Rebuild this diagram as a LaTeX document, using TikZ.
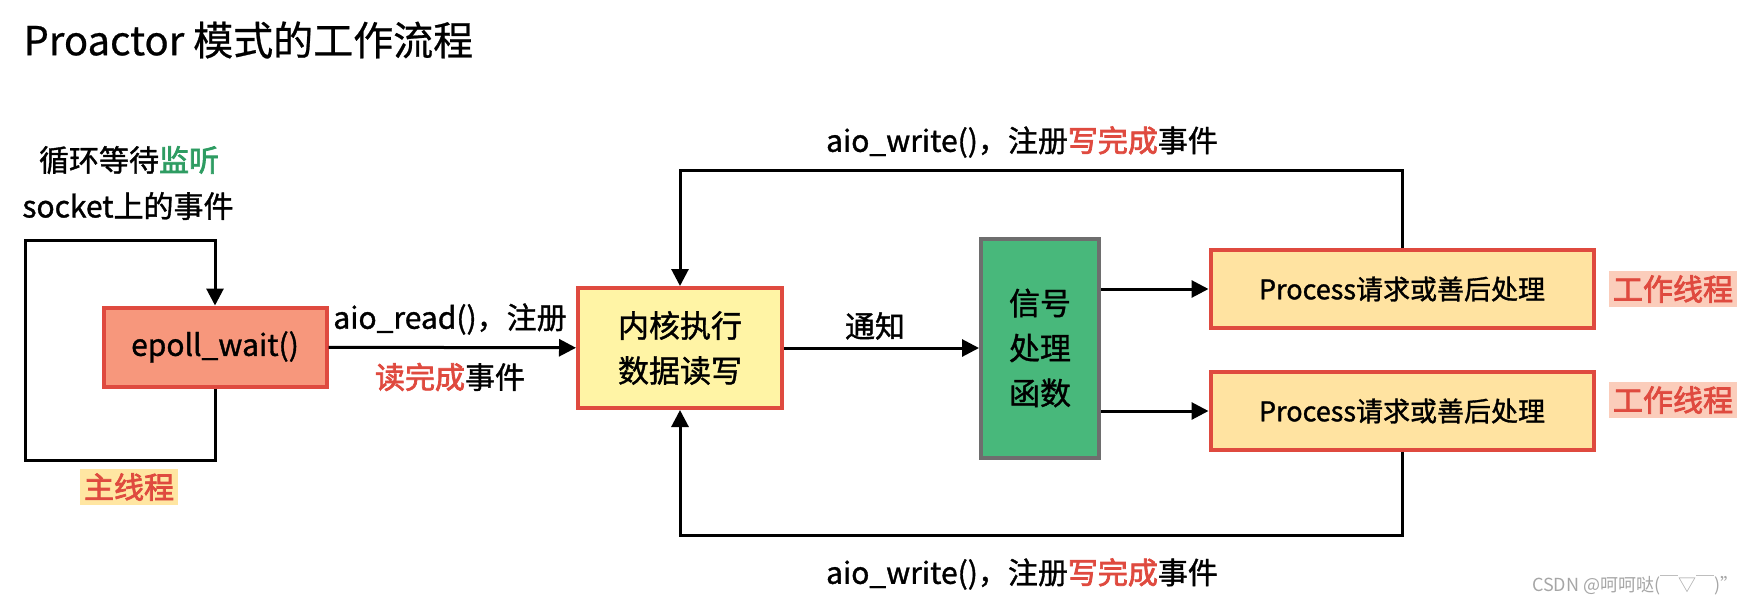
\documentclass[tikz,border=0pt]{standalone}
\usepackage{fontspec}
\setmainfont{Noto Sans CJK SC}
\newfontfamily\medfont{Noto Sans CJK SC}[RawFeature={embolden=1.2}]
\newfontfamily\boldish{Noto Sans CJK SC}[RawFeature={embolden=2.4}]
\newfontfamily\titlefont{Noto Sans CJK SC}[RawFeature={embolden=0.6}]
\usetikzlibrary{arrows.meta}

\definecolor{hired}{HTML}{DF4A3F}
\definecolor{higreen}{HTML}{2E9C62}
\definecolor{epollfill}{HTML}{F7977C}
\definecolor{kernfill}{HTML}{FFF4A5}
\definecolor{procfill}{HTML}{FFE3A1}
\definecolor{sigfill}{HTML}{48B87B}
\definecolor{sigdraw}{HTML}{6E6E6E}
\definecolor{mainbg}{HTML}{FFE6A2}
\definecolor{workbg}{HTML}{FBCDBB}

\newcommand{\redword}[1]{{\boldish\color{hired}#1}}
\newcommand{\greenword}[1]{{\boldish\color{higreen}#1}}

\tikzset{
	redbox/.style={draw=hired,line width=4pt,inner sep=0pt,align=center},
	tagbox/.style={fill=#1,text=hired,inner sep=4pt,font=\boldish\fontsize{30}{45}\selectfont},
	flow/.style={line width=3pt,-{Triangle[length=17pt,width=17pt]}}
}

\begin{document}
\begin{tikzpicture}[x=1pt,y=-1pt,font=\medfont\fontsize{30}{45}\selectfont]
	\useasboundingbox (0,0) rectangle (1754,606);

	% title
	\node[anchor=west,font=\titlefont\fontsize{40}{48}\selectfont] (title) at (20,40) {Proactor 模式的工作流程};

	% main thread loop
	\node (waitlbl) at (129,160) {循环等待\greenword{监听}};
	\node (socklbl) at (128,206) {socket上的事件};
	\node[redbox,fill=epollfill,minimum width=223,minimum height=79] (epoll) at (215,347) {epoll\_wait()};
	\node[tagbox=mainbg] (mainlbl) at (129,487) {主线程};
	\coordinate (loopBL) at (25,460);
	\coordinate (loopTL) at (25,240);
	\draw[flow] (epoll.south) |- (loopBL) -- (loopTL) -| (epoll.north);

	% kernel
	\node[redbox,fill=kernfill,minimum width=204,minimum height=120,font=\medfont\fontsize{31}{45}\selectfont] (kern) at (680,348) {内核执行\\数据读写};
	\draw[flow] (epoll) -- (kern);
	\node (readlbl) at (450,319) {aio\_read()，注册};
	\node (donelbl) at (450,377) {\redword{读完成}事件};

	% signal handler
	\node[draw=sigdraw,fill=sigfill,line width=4pt,minimum width=118,minimum height=219,inner sep=0pt,align=center,font=\medfont\fontsize{31}{45}\selectfont] (sig) at (1040,348) {信号\\处理\\函数};
	\draw[flow] (kern) -- (sig);
	\node (notelbl) at (875,326) {通知};

	% worker threads
	\node[redbox,fill=procfill,minimum width=383,minimum height=78,font=\medfont\fontsize{27}{32}\selectfont] (proc1) at (1402,289) {Process请求或善后处理};
	\node[redbox,fill=procfill,minimum width=383,minimum height=78,font=\medfont\fontsize{27}{32}\selectfont] (proc2) at (1402,411) {Process请求或善后处理};
	\node[tagbox=workbg] (work1) at (1673,289) {工作线程};
	\node[tagbox=workbg] (work2) at (1673,400) {工作线程};
	\draw[flow] (sig.east |- proc1) -- (proc1.west);
	\draw[flow] (sig.east |- proc2) -- (proc2.west);

	% write back loops
	\coordinate (wtop) at (0,170);
	\coordinate (wbot) at (0,535);
	\draw[flow] (proc1.north) |- (kern.north |- wtop) -- (kern.north);
	\draw[flow] (proc2.south) |- (kern.south |- wbot) -- (kern.south);
	\node (wrtop) at (1022,142) {aio\_write()，注册\redword{写完成}事件};
	\node (wrbot) at (1022,574) {aio\_write()，注册\redword{写完成}事件};

	% watermark
	\node[anchor=east,text=gray!70,font=\fontsize{18}{20}\selectfont] (mark) at (1742,585) {CSDN @呵呵哒(￣▽￣)"};
\end{tikzpicture}
\end{document}
